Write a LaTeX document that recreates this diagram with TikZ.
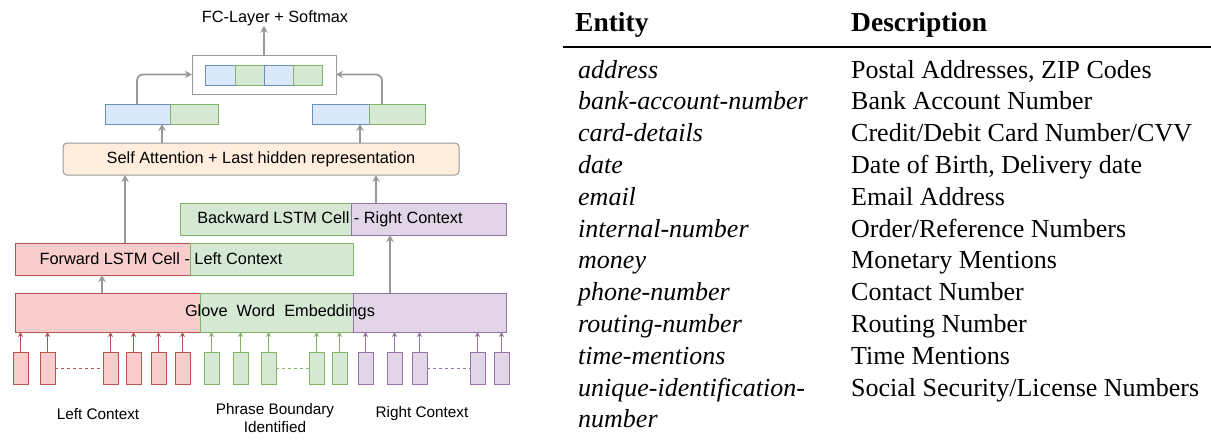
\documentclass[tikz,border=0pt]{standalone}
\usepackage{fontspec}
\setmainfont{Liberation Serif}
\newfontfamily\diag{Liberation Sans}
\usetikzlibrary{arrows.meta}
\definecolor{rf}{HTML}{F8CECC}\definecolor{rs}{HTML}{B85450}
\definecolor{gf}{HTML}{D5E8D4}\definecolor{gs}{HTML}{82B366}
\definecolor{pf}{HTML}{E1D5E7}\definecolor{ps}{HTML}{9673A6}
\definecolor{bf}{HTML}{DAE8FC}\definecolor{bs}{HTML}{6C8EBF}
\definecolor{of}{HTML}{FFEEDD}\definecolor{ar}{HTML}{999999}
\newcommand\rbox[6]{\node[#6, minimum width={(#4-#2)*1pt}, minimum height={(#5-#3)*1pt}] (#1) at ({(#2+#4)/2},{(#3+#5)/2}) {};}
\begin{document}
\begin{tikzpicture}[x=1pt,y=-1pt,
  bx/.style={draw, line width=1pt, inner sep=0pt, outer sep=0pt},
  R/.style={bx, fill=rf, draw=rs}, G/.style={bx, fill=gf, draw=gs},
  P/.style={bx, fill=pf, draw=ps}, B/.style={bx, fill=bf, draw=bs},
  arr/.style={draw=ar, line width=1.8pt, -{Stealth[length=7pt,width=7.5pt]}},
  tarr/.style={line width=0.8pt, -{Stealth[length=5pt,width=5pt]}},
  lbl/.style={font=\diag\fontsize{16.3}{19}\selectfont, inner sep=0pt},
  tl/.style={font=\diag\fontsize{15.3}{18}\selectfont, inner sep=0pt, align=center},
  th/.style={font=\bfseries\fontsize{27.5}{30}\selectfont, anchor=base west, inner sep=0pt},
  te/.style={font=\itshape\fontsize{26}{30}\selectfont, anchor=base west, inner sep=0pt},
  td/.style={font=\fontsize{26}{30}\selectfont, anchor=base west, inner sep=0pt}]
\useasboundingbox (0,0) rectangle (1211,440);
% top
\node[lbl] (fc) at (275,18) {FC-Layer + Softmax};
\rbox{outer}{192}{55}{336}{94}{bx, draw=ar, fill=white}
\rbox{c1}{205}{65}{235}{85}{B}\rbox{c2}{235}{65}{264}{85}{G}
\rbox{c3}{264}{65}{293}{85}{B}\rbox{c4}{293}{65}{322}{85}{G}
\rbox{lv1}{105}{104}{170}{124}{B}\rbox{lv2}{170}{104}{218}{124}{G}
\rbox{rv1}{312}{104}{369}{124}{B}\rbox{rv2}{369}{104}{425}{124}{G}
\rbox{att}{63}{143}{459}{175}{bx, draw=ar, fill=of, rounded corners=4pt}
\node[lbl] (attt) at (att.center) {Self Attention + Last hidden representation};
\rbox{bw1}{180}{203}{351}{235}{G}\rbox{bw2}{351}{203}{506}{235}{P}
\node[lbl] (bwt) at (330,219) {Backward LSTM Cell - Right Context};
\rbox{fw1}{15}{243}{190}{275}{R}\rbox{fw2}{190}{243}{353}{275}{G}
\node[lbl] (fwt) at (161,259) {Forward LSTM Cell - Left Context};
\rbox{gl1}{15}{293}{200}{332}{R}\rbox{gl2}{200}{293}{353}{332}{G}\rbox{gl3}{353}{293}{506}{332}{P}
\node[lbl] (glt) at (280,312) {Glove\ \ Word\ \ Embeddings};
% arrows
\draw[arr] (outer.north) -- (outer.north |- fc.south);
\draw[arr, rounded corners=6pt] (lv1.north -| 137,0) |- (outer.west);
\draw[arr, rounded corners=6pt] (rv2.north -| 382,0) |- (outer.east);
\draw[arr] (att.north -| 162,0) -- (lv1.south -| 162,0);
\draw[arr] (att.north -| 360,0) -- (rv1.south -| 360,0);
\draw[arr] (fw1.north -| 125,0) -- (att.south -| 125,0);
\draw[arr] (bw2.north -| 376,0) -- (att.south -| 376,0);
\draw[arr] (gl1.north -| 102,0) -- (fw1.south -| 102,0);
\draw[arr] (gl3.north -| 390,0) -- (bw2.south -| 390,0);
% tokens
\foreach \x [count=\i] in {13,40,103,126,151,175} {
  \rbox{tr\i}{\x}{352}{\x+15}{384}{R}
  \draw[tarr, draw=rs, fill=rs] (tr\i.north) -- (tr\i.north |- gl1.south);}
\foreach \x [count=\i] in {204,233,261,309,332} {
  \rbox{tg\i}{\x}{352}{\x+15}{384}{G}
  \draw[tarr, draw=gs, fill=gs] (tg\i.north) -- (tg\i.north |- gl1.south);}
\foreach \x [count=\i] in {358,387,412,470,494} {
  \rbox{tp\i}{\x}{352}{\x+15}{384}{P}
  \draw[tarr, draw=ps, fill=ps] (tp\i.north) -- (tp\i.north |- gl1.south);}
\draw[rs, dashed, line width=0.7pt] (tr2.east) -- (tr3.west);
\draw[gs, dashed, line width=0.7pt] (tg3.east) -- (tg4.west);
\draw[ps, dashed, line width=0.7pt] (tp3.east) -- (tp4.west);
\node[tl] (l1) at (98,414) {Left Context};
\node[tl] (l2) at (275,418) {Phrase Boundary\\Identified};
\node[tl] (l3) at (422,414) {Right Context};
% table
\node[th] (h1) at (575,31) {Entity};
\node[th] (h2) at (851,31) {Description};
\coordinate (rl) at (563,47); \coordinate (rr) at (1211,47);
\draw[line width=1.3pt] (rl) -- (rr);
\foreach \e/\d [count=\i] in {address/{Postal Addresses, ZIP Codes},
  bank-account-number/Bank Account Number,
  card-details/{Credit/Debit Card Number/CVV},
  date/{Date of Birth, Delivery date},
  email/Email Address,
  internal-number/{Order/Reference Numbers},
  money/Monetary Mentions,
  phone-number/Contact Number,
  routing-number/Routing Number,
  time-mentions/Time Mentions,
  unique-identification-/{Social Security/License Numbers}} {
  \node[te] (e\i) at (578,{78+(\i-1)*31.8}) {\e};
  \node[td] (d\i) at (851,{78+(\i-1)*31.8}) {\d};}
\node[te] (e12) at (578,427) {number};
\end{tikzpicture}
\end{document}
